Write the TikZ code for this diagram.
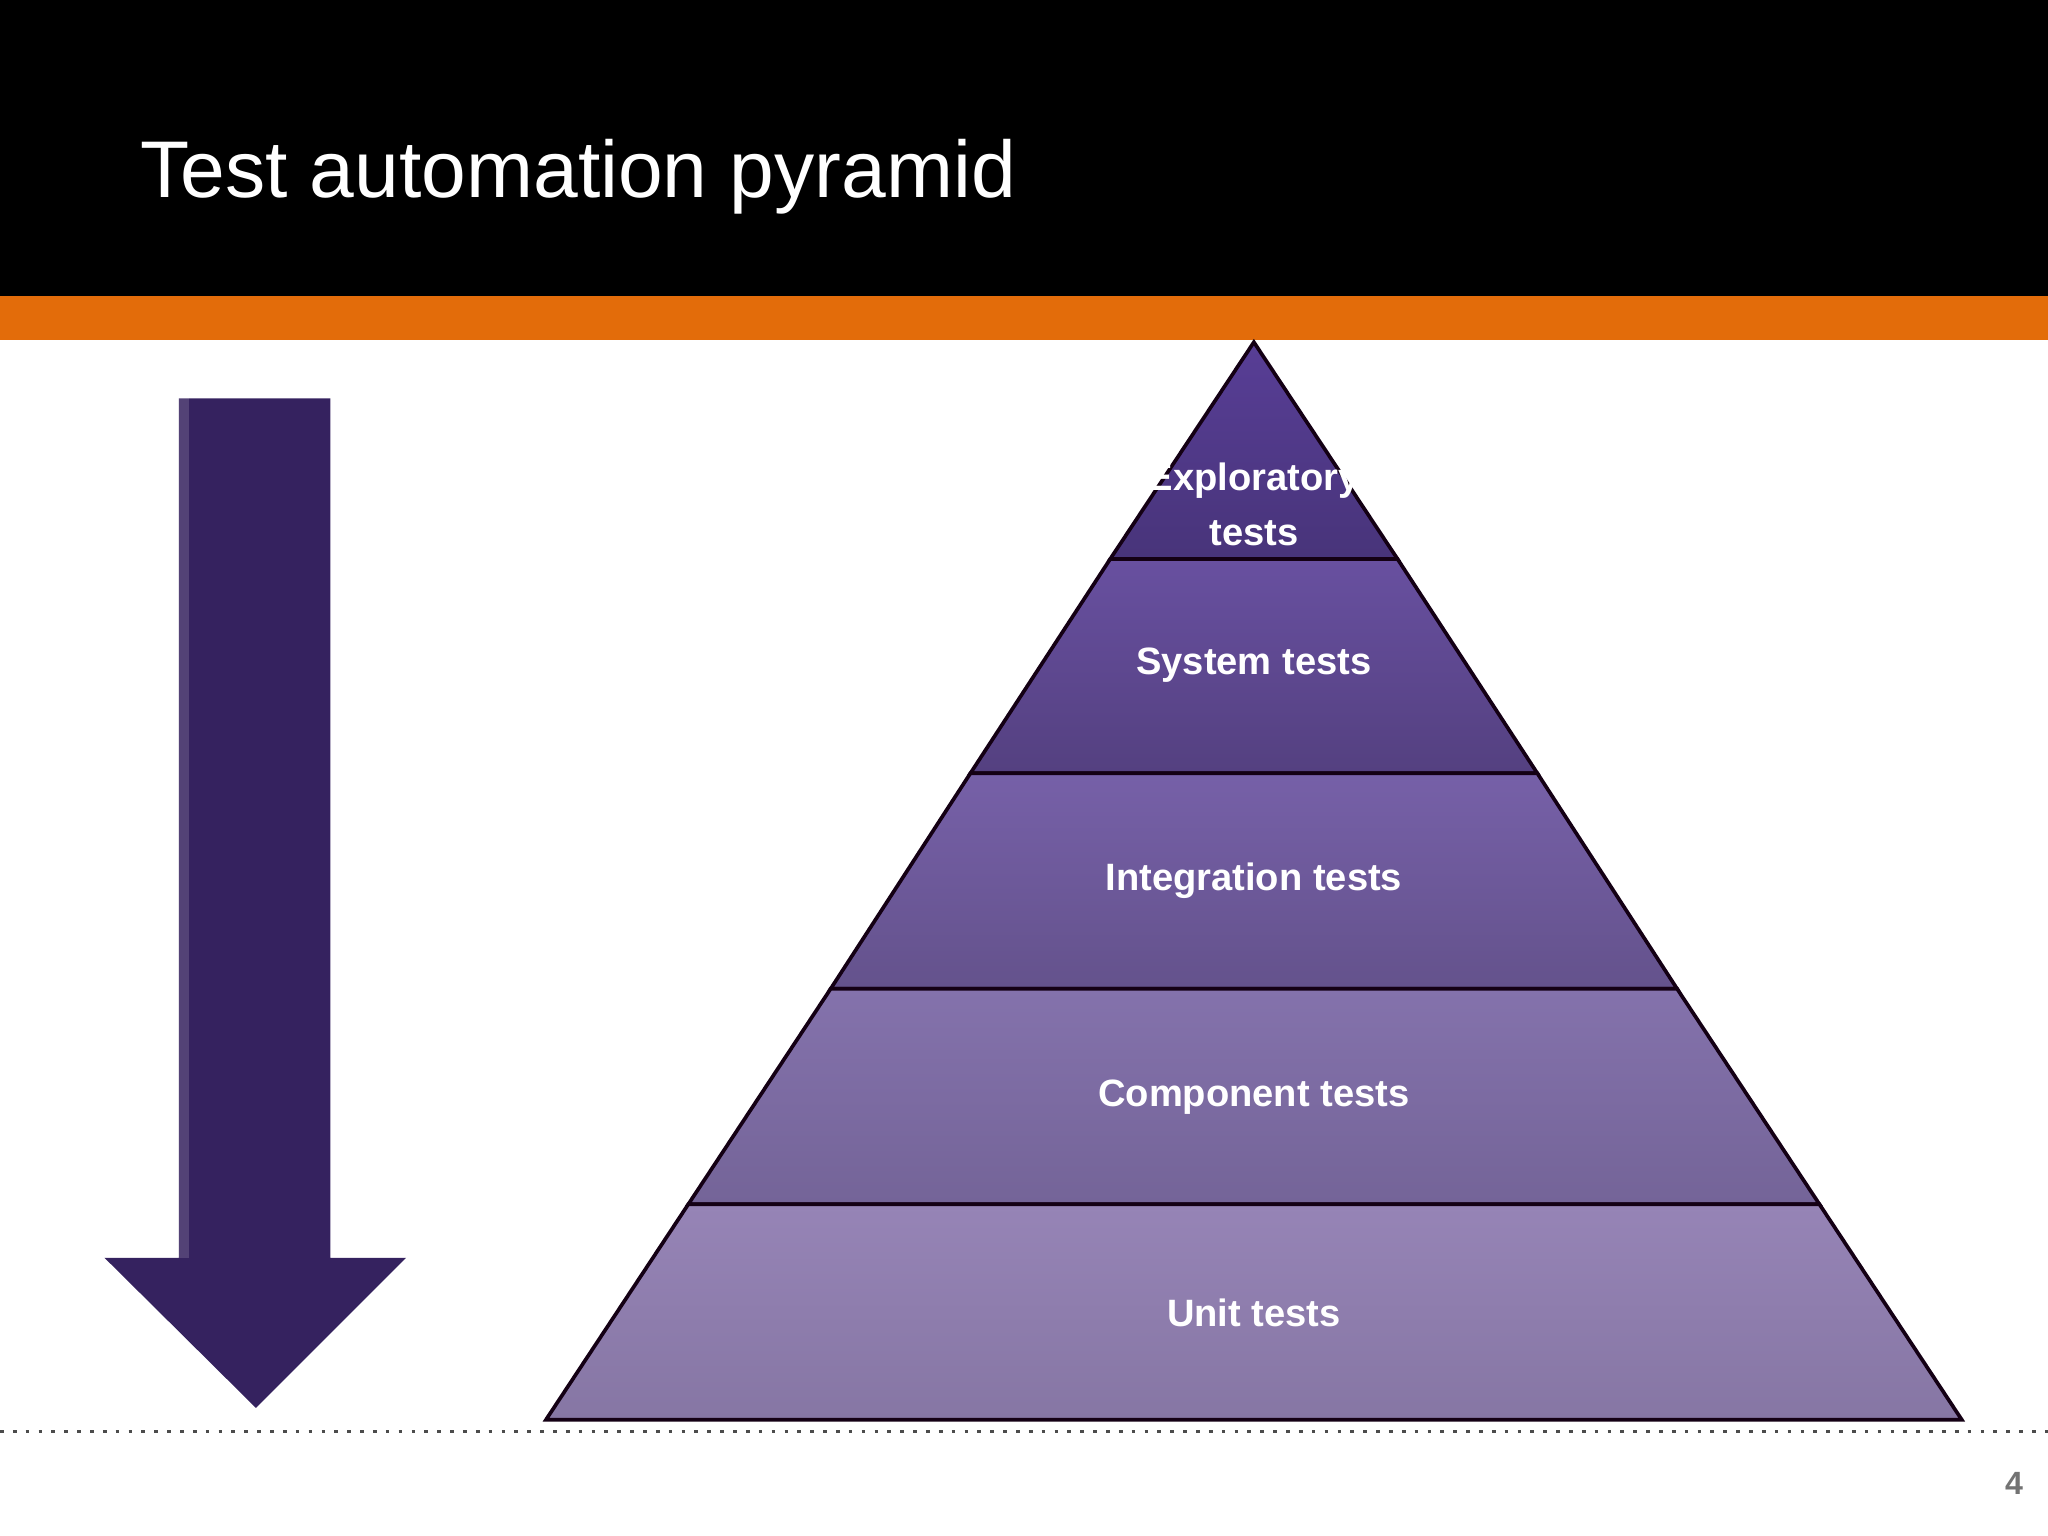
\documentclass[tikz,border=0pt]{standalone}
\usepackage{fontspec}
\setmainfont{Liberation Sans}
\begin{document}
\begin{tikzpicture}[x=0.01cm,y=-0.01cm]
  \definecolor{band}{HTML}{E36C0A}
  \definecolor{arrowc}{HTML}{35225F}
  \tikzset{
    layer/.style={draw=black!60!violet!40!black, line width=0.8pt},
    lbl/.style={text=white, font=\bfseries\fontsize{8.3}{10}\selectfont, align=center}
  }
  \useasboundingbox (0,0) rectangle (1568,1176);
  % header
  \fill[black] (0,0) rectangle (1568,227);
  \fill[band] (0,227) rectangle (1568,260);
  \node[anchor=west, text=white, font=\fontsize{17.5}{20}\selectfont] (title) at (95,135) {Test automation pyramid};

  % arrow
  \fill[arrowc] (137,305) -- (253,305) -- (253,963) -- (311,963) -- (196,1078) -- (80,963) -- (137,963) -- cycle;
  \fill[white, opacity=0.15] (137,305) -- (145,305) -- (145,963) -- (137,963) -- cycle;

  % pyramid layers
  \shade[layer, top color={rgb,255:red,88;green,62;blue,150}, bottom color={rgb,255:red,72;green,52;blue,122}]
    (960,262) -- (1070,428) -- (850,428) -- cycle;
  \shade[layer, top color={rgb,255:red,104;green,80;blue,160}, bottom color={rgb,255:red,84;green,64;blue,128}]
    (850,428) -- (1070,428) -- (1177,592) -- (743,592) -- cycle;
  \shade[layer, top color={rgb,255:red,118;green,96;blue,168}, bottom color={rgb,255:red,100;green,82;blue,140}]
    (743,592) -- (1177,592) -- (1284,757) -- (636,757) -- cycle;
  \shade[layer, top color={rgb,255:red,132;green,114;blue,172}, bottom color={rgb,255:red,116;green,100;blue,152}]
    (636,757) -- (1284,757) -- (1393,922) -- (527,922) -- cycle;
  \shade[layer, top color={rgb,255:red,150;green,132;blue,182}, bottom color={rgb,255:red,134;green,118;blue,164}]
    (527,922) -- (1393,922) -- (1502,1087) -- (418,1087) -- cycle;

  \node[lbl] (expl) at (960,386) {Exploratory\\[2pt]tests};
  \node[lbl] (sys) at (960,509) {System tests};
  \node[lbl] (integ) at (960,674) {Integration tests};
  \node[lbl] (comp) at (960,840) {Component tests};
  \node[lbl] (unit) at (960,1005) {Unit tests};

  % footer
  \draw[black!70, dotted, line width=0.8pt] (0,1096) -- (1568,1096);
  \node[text=black!55, font=\bfseries\fontsize{7}{8}\selectfont] (page) at (1542,1136) {4};
\end{tikzpicture}
\end{document}
